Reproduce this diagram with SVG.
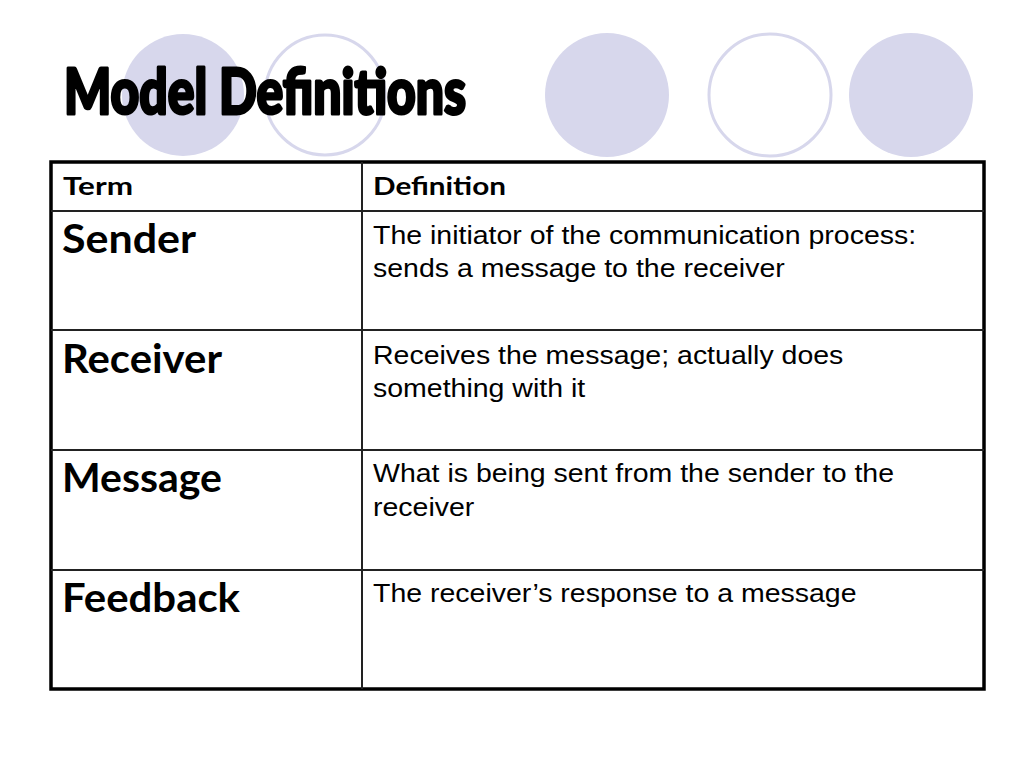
<svg xmlns="http://www.w3.org/2000/svg" width="1024" height="768" viewBox="0 0 1024 768">
<style>
.fc{fill:#d7d7ec;stroke:none}
.oc{fill:none;stroke:#d7d7ec;stroke-width:3}
.title{font-family:Lato,"DejaVu Sans",sans-serif;font-weight:900;font-size:62px;fill:#000;stroke:#000;stroke-width:3;stroke-linejoin:round}
.hd{font-family:Lato,"DejaVu Sans",sans-serif;font-weight:bold;font-size:24px;fill:#000}
.term{font-family:Lato,"DejaVu Sans",sans-serif;font-weight:bold;font-size:40px;fill:#000}
.def{font-family:"Liberation Sans",Arial,sans-serif;font-size:25px;fill:#000}
.grid{stroke:#222;stroke-width:2;fill:none}
</style>
<rect width="1024" height="768" fill="#fff"/>
<g id="decor">
<circle class="fc" cx="183" cy="95" r="61"/>
<circle class="oc" cx="325" cy="95" r="60"/>
<circle class="fc" cx="607" cy="95" r="62"/>
<circle class="oc" cx="770" cy="95" r="61"/>
<circle class="fc" cx="911" cy="95" r="62"/>
</g>
<g id="title"><text class="title" x="64" y="114" textLength="402" lengthAdjust="spacingAndGlyphs">Model Definitions</text></g>
<g id="table">
<rect x="51" y="162" width="933" height="527" fill="none" stroke="#000" stroke-width="3.5"/>
<line class="grid" x1="362" y1="162" x2="362" y2="689"/>
<line class="grid" x1="51" y1="211" x2="984" y2="211"/>
<line class="grid" x1="51" y1="330" x2="984" y2="330"/>
<line class="grid" x1="51" y1="450" x2="984" y2="450"/>
<line class="grid" x1="51" y1="570" x2="984" y2="570"/>
</g>
<g id="header">
<text class="hd" x="63" y="195" textLength="70" lengthAdjust="spacingAndGlyphs">Term</text>
<text class="hd" x="373" y="195" textLength="133" lengthAdjust="spacingAndGlyphs">Definition</text>
</g>
<g id="row-sender">
<text class="term" x="62" y="253" textLength="134" lengthAdjust="spacingAndGlyphs">Sender</text>
<g transform="translate(373,0) scale(1.14,1)">
<text class="def" x="0" y="244">The initiator of the communication process:</text>
<text class="def" x="0" y="277">sends a message to the receiver</text>
</g>
</g>
<g id="row-receiver">
<text class="term" x="62" y="373" textLength="160" lengthAdjust="spacingAndGlyphs">Receiver</text>
<g transform="translate(373,0) scale(1.14,1)">
<text class="def" x="0" y="364">Receives the message; actually does</text>
<text class="def" x="0" y="397">something with it</text>
</g>
</g>
<g id="row-message">
<text class="term" x="62" y="492" textLength="160" lengthAdjust="spacingAndGlyphs">Message</text>
<g transform="translate(373,0) scale(1.14,1)">
<text class="def" x="0" y="482">What is being sent from the sender to the</text>
<text class="def" x="0" y="516">receiver</text>
</g>
</g>
<g id="row-feedback">
<text class="term" x="62" y="612" textLength="178" lengthAdjust="spacingAndGlyphs">Feedback</text>
<g transform="translate(373,0) scale(1.14,1)">
<text class="def" x="0" y="602">The receiver’s response to a message</text>
</g>
</g>
</svg>
